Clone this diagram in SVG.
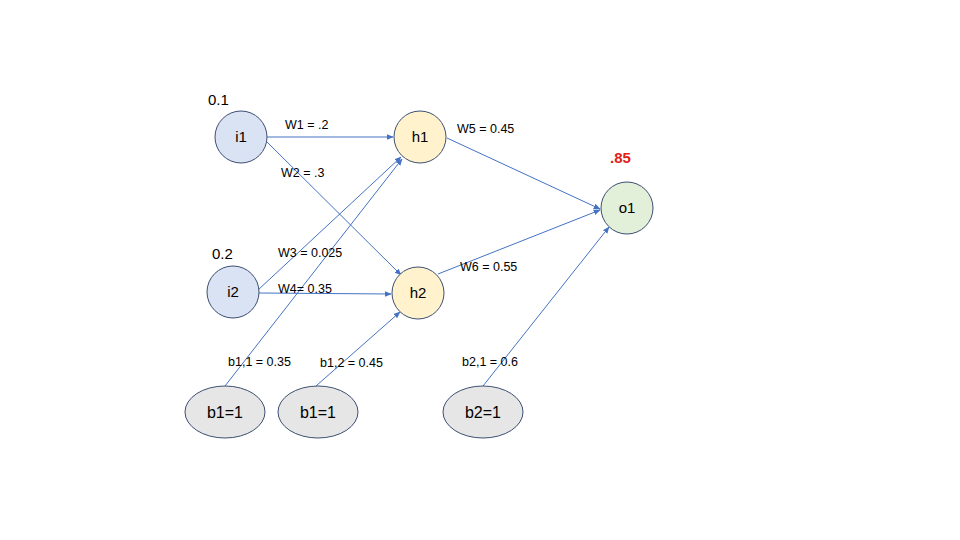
<svg xmlns="http://www.w3.org/2000/svg" width="960" height="540" viewBox="0 0 960 540">
<style>
text{font-family:"Liberation Sans","Open Sans",sans-serif;fill:#000}
.n{stroke:#3d4f72;stroke-width:1}
.in{fill:#dae3f3}.hid{fill:#fff2cc}.out{fill:#e2f0d9}.bias{fill:#e7e6e6}
.lbl{font-size:15px;text-anchor:middle}
.w{font-size:12.5px}
.c line{stroke:#4472c4;stroke-width:1}
</style>
<defs>
<marker id="ar" viewBox="0 0 10 10" refX="9" refY="5" markerWidth="7" markerHeight="7" orient="auto" markerUnits="userSpaceOnUse">
<path d="M0,1 L10,5 L0,9 Z" fill="#4472c4"/>
</marker>
</defs>
<rect width="960" height="540" fill="#fff"/>
<g class="c">
<line x1="267" y1="137" x2="393" y2="137" marker-end="url(#ar)"/>
<line x1="265" y1="140" x2="401" y2="275" marker-end="url(#ar)"/>
<line x1="258" y1="290" x2="401" y2="157" marker-end="url(#ar)"/>
<line x1="259" y1="293" x2="391" y2="294" marker-end="url(#ar)"/>
<line x1="225" y1="386" x2="402" y2="159" marker-end="url(#ar)"/>
<line x1="316" y1="386" x2="400" y2="312" marker-end="url(#ar)"/>
<line x1="483" y1="386" x2="609" y2="227" marker-end="url(#ar)"/>
<line x1="447" y1="138" x2="600" y2="209" marker-end="url(#ar)"/>
<line x1="438" y1="274" x2="600" y2="210" marker-end="url(#ar)"/>
</g>
<g id="i1"><circle class="n in" cx="241" cy="137" r="26"/><text class="lbl" x="241" y="142">i1</text></g>
<g id="i2"><circle class="n in" cx="233" cy="292" r="26"/><text class="lbl" x="233" y="297">i2</text></g>
<g id="h1"><circle class="n hid" cx="420" cy="137" r="26"/><text class="lbl" x="420" y="142">h1</text></g>
<g id="h2"><circle class="n hid" cx="418" cy="293" r="26"/><text class="lbl" x="418" y="298">h2</text></g>
<g id="o1"><circle class="n out" cx="627" cy="208" r="26"/><text class="lbl" x="627" y="213">o1</text></g>
<g id="b11"><ellipse class="n bias" cx="225" cy="412" rx="40" ry="26"/><text class="lbl" x="225" y="418" style="font-size:16px">b1=1</text></g>
<g id="b12"><ellipse class="n bias" cx="318" cy="412" rx="40" ry="26"/><text class="lbl" x="318" y="418" style="font-size:16px">b1=1</text></g>
<g id="b21"><ellipse class="n bias" cx="483" cy="412" rx="40" ry="26"/><text class="lbl" x="483" y="418" style="font-size:16px">b2=1</text></g>
<g id="labels">
<text x="208" y="105" style="font-size:15px">0.1</text>
<text x="212" y="259" style="font-size:15px">0.2</text>
<text x="610" y="163" style="font-size:15px;fill:#e0201b;font-weight:bold">.85</text>
<text class="w" x="285" y="129">W1 = .2</text>
<text class="w" x="281" y="177">W2 = .3</text>
<text class="w" x="278" y="257">W3 = 0.025</text>
<text class="w" x="278" y="293">W4= 0.35</text>
<text class="w" x="457" y="133">W5 = 0.45</text>
<text class="w" x="460" y="271">W6 = 0.55</text>
<text class="w" x="228" y="366">b1,1 = 0.35</text>
<text class="w" x="320" y="367">b1,2 = 0.45</text>
<text class="w" x="462" y="366">b2,1 = 0.6</text>
</g>
</svg>
